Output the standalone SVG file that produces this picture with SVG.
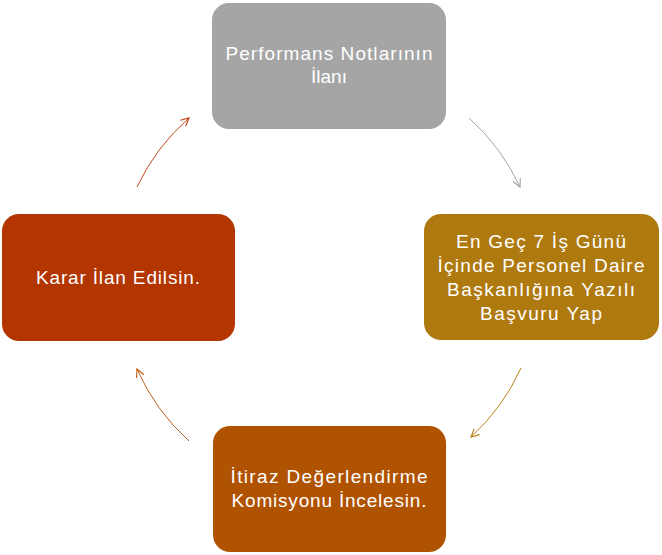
<svg xmlns="http://www.w3.org/2000/svg" width="662" height="555" viewBox="0 0 662 555">
<style>
.box{stroke:none}
.t{font-family:"Liberation Sans",Arial,sans-serif;font-size:19px;fill:#fff;text-anchor:middle}
.c{fill:none;stroke-width:1}
</style>
<defs>
<marker id="a1" viewBox="0 0 10 10" refX="9" refY="5" markerWidth="10" markerHeight="10" markerUnits="userSpaceOnUse" orient="auto"><path d="M1,1 L9,5 L1,9" fill="none" stroke="#a5a5a5" stroke-width="1.2"/></marker>
<marker id="a2" viewBox="0 0 10 10" refX="9" refY="5" markerWidth="10" markerHeight="10" markerUnits="userSpaceOnUse" orient="auto"><path d="M1,1 L9,5 L1,9" fill="none" stroke="#b9841c" stroke-width="1.2"/></marker>
<marker id="a3" viewBox="0 0 10 10" refX="9" refY="5" markerWidth="10" markerHeight="10" markerUnits="userSpaceOnUse" orient="auto"><path d="M1,1 L9,5 L1,9" fill="none" stroke="#c0601c" stroke-width="1.2"/></marker>
<marker id="a4" viewBox="0 0 10 10" refX="9" refY="5" markerWidth="10" markerHeight="10" markerUnits="userSpaceOnUse" orient="auto"><path d="M1,1 L9,5 L1,9" fill="none" stroke="#c4481c" stroke-width="1.2"/></marker>
</defs>
<g id="connectors">
<path class="c" d="M469,118 A211,211 0 0 1 520,187" stroke="#a5a5a5" marker-end="url(#a1)"/>
<path class="c" d="M521,368 A211,211 0 0 1 471,437" stroke="#b9841c" marker-end="url(#a2)"/>
<path class="c" d="M189,441 A211,211 0 0 1 137,369" stroke="#c0601c" marker-end="url(#a3)"/>
<path class="c" d="M137,187 A211,211 0 0 1 189,118" stroke="#c4481c" marker-end="url(#a4)"/>
</g>
<g id="node1">
<rect class="box" x="212" y="3" width="234" height="126" rx="17" fill="#a5a5a5"/>
<text class="t" x="329" y="60" textLength="207" lengthAdjust="spacing">Performans Notlarının</text>
<text class="t" x="329" y="83">İlanı</text>
</g>
<g id="node2">
<rect class="box" x="424" y="214" width="235" height="126" rx="17" fill="#ae7a10"/>
<text class="t" x="541" y="248" textLength="170" lengthAdjust="spacing">En Geç 7 İş Günü</text>
<text class="t" x="541" y="272" textLength="207" lengthAdjust="spacing">İçinde Personel Daire</text>
<text class="t" x="541" y="296" textLength="188" lengthAdjust="spacing">Başkanlığına Yazılı</text>
<text class="t" x="541" y="320" textLength="122" lengthAdjust="spacing">Başvuru Yap</text>
</g>
<g id="node3">
<rect class="box" x="213" y="426" width="233" height="126" rx="17" fill="#b05300"/>
<text class="t" x="329" y="483" textLength="197" lengthAdjust="spacing">İtiraz Değerlendirme</text>
<text class="t" x="329" y="507" textLength="195" lengthAdjust="spacing">Komisyonu İncelesin.</text>
</g>
<g id="node4">
<rect class="box" x="2" y="214" width="233" height="127" rx="17" fill="#b33600"/>
<text class="t" x="118" y="284" textLength="164" lengthAdjust="spacing">Karar İlan Edilsin.</text>
</g>
</svg>
